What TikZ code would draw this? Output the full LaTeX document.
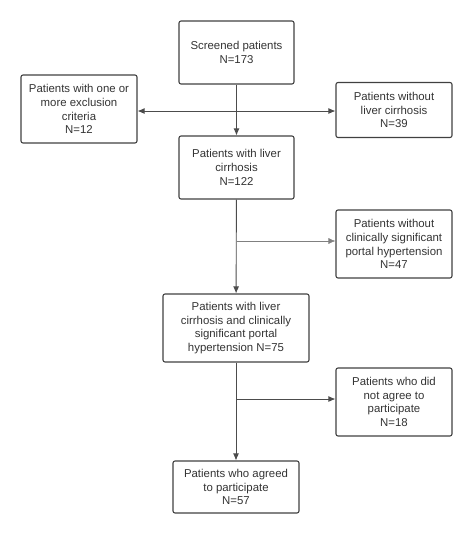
\documentclass[tikz,border=0pt]{standalone}
\usepackage{fontspec}
\setmainfont{Liberation Sans}
\usetikzlibrary{arrows.meta}

\begin{document}
\begin{tikzpicture}[x=1pt, y=-1pt, >={Latex[length=7pt, width=6pt]},
    box/.style={draw=black!75, line width=1.1pt, rectangle, rounded corners=2pt, align=center, inner sep=2pt, font=\fontsize{11.4}{13.8}\selectfont, text=black!80},
    flow/.style={->, draw=black!70, line width=0.9pt}]
        \useasboundingbox (0,0) rectangle (474,536);
        \node[box, minimum width=115pt, minimum height=63pt] (screened) at (236.5,52.5) {Screened patients\\N=173};
        \node[box, minimum width=116pt, minimum height=68pt] (exclusion) at (79,109) {Patients with one or\\more exclusion\\criteria\\N=12};
        \node[box, minimum width=116pt, minimum height=55pt] (nocirrhosis) at (394,110) {Patients without\\liver cirrhosis\\N=39};
        \node[box, minimum width=115pt, minimum height=63pt] (cirrhosis) at (236.5,167.5) {Patients with liver\\cirrhosis\\N=122};
        \node[box, minimum width=116pt, minimum height=68pt] (nocsph) at (394,244) {Patients without\\clinically significant\\portal hypertension\\N=47};
        \node[box, minimum width=146pt, minimum height=68pt] (csph) at (236,328) {Patients with liver\\cirrhosis and clinically\\significant portal\\hypertension N=75};
        \node[box, minimum width=116pt, minimum height=68pt] (declined) at (394,402) {Patients who did\\not agree to\\participate\\N=18};
        \node[box, minimum width=126pt, minimum height=52pt] (agreed) at (236,487) {Patients who agreed\\to participate\\N=57};

        \coordinate (split1) at (236.5,111);
        \coordinate (split2) at (236.5,241);
        \coordinate (split3) at (236,399);

        \draw[flow] (screened) -- (cirrhosis);
        \draw[flow] (split1) -- (exclusion.east |- split1);
        \draw[flow] (split1) -- (nocirrhosis.west |- split1);
        \draw[flow] (cirrhosis) -- (csph);
        \draw[flow, draw=black!50, fill=black!70, line width=0.6pt] (split2) -- (nocsph.west |- split2);
        \draw[flow] (csph) -- (agreed);
        \draw[flow] (split3) -- (declined.west |- split3);
    \end{tikzpicture}
\end{document}
